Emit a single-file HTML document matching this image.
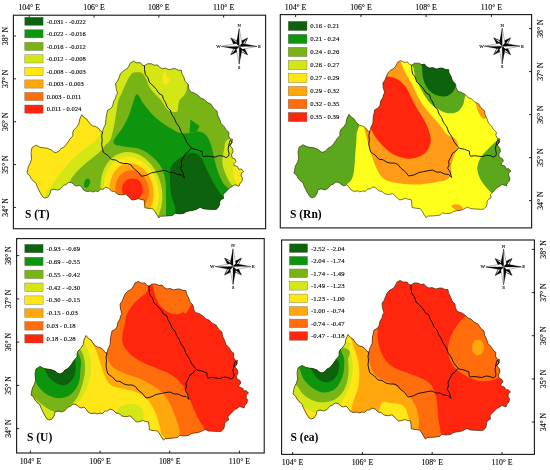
<!DOCTYPE html>
<html lang="en"><head><meta charset="utf-8"><title>Sensitivity maps</title>
<style>html,body{margin:0;padding:0;background:#fff}body{width:550px;height:470px;overflow:hidden}svg{display:block}text{font-family:"Liberation Serif","DejaVu Serif",serif;fill:#000}.ax{font-size:7.8px;stroke:#000;stroke-width:0.12px}.lg{font-size:6.5px;stroke:#000;stroke-width:0.12px}.lg2{font-size:6.7px;stroke:#000;stroke-width:0.12px}.ttl{font-size:11.5px;font-weight:bold;fill:#000}.cp{font-size:4.8px;fill:#111;stroke:#111;stroke-width:0.15px}</style></head><body>
<svg width="550" height="470" viewBox="0 0 550 470">
<rect width="550" height="470" fill="#fff"/>
<defs><filter id="soft" x="0" y="0" width="550" height="470" filterUnits="userSpaceOnUse"><feGaussianBlur stdDeviation="0.4"/></filter>
<clipPath id="clip1"><path d="M27 173.4 L28.4 166.5 L30.5 162.5 L31.6 158.6 L31 152.6 L32 147.7 L36 145.1 L39.9 147.2 L42.9 147.7 L46.9 148.2 L50.9 149.7 L53.9 152.1 L55.9 152.6 L58.9 151.2 L60.8 148.7 L63.8 147.2 L66.8 143.8 L69.8 139.3 L72.8 135.9 L72.8 132.4 L73.8 129.9 L76.8 127 L78.8 124 L79.8 119.1 L81.7 114.7 L84.2 117.6 L86.7 119.1 L89.7 123.5 L92.7 126 L95.7 126.5 L98.7 128.5 L100.7 131.4 L102.6 131.9 L103.6 128 L105.6 124 L106.1 117.1 L107.6 110.2 L110.6 108.7 L112.6 106.2 L113.6 101.3 L115.6 98.3 L116.1 95.4 L117.6 93.4 L116.1 88.5 L115.6 83.5 L117.6 81.1 L118.6 78.6 L120.6 73.6 L123.6 70.7 L126.5 69.2 L128.5 66.7 L130.5 62.8 L133.5 61.2 L136.5 62.8 L140.5 62.8 L142.5 65.3 L144.5 65.7 L147.4 63.8 L151.4 63.8 L154.4 65.3 L157.4 64.8 L159.4 67.2 L162.4 68.7 L165.4 68.2 L169.3 69.7 L172.3 68.7 L175.3 68.7 L178.3 70.2 L181.3 70.2 L181.8 73.6 L183.8 77.1 L185.3 81.5 L188.3 84.5 L188.7 88.5 L190.7 91.9 L194.2 92.9 L198.2 95.4 L201.2 98.3 L204.2 99.3 L207.2 102.3 L211.1 104.3 L213.6 108.2 L217.1 111.2 L217.6 115.1 L219.6 119.1 L221.1 123.5 L224.1 126.5 L226.1 129.9 L229.1 132.4 L228.6 135.9 L230.1 138.8 L232.5 139.3 L232 142.3 L230.1 144.2 L230.1 145.7 L232.5 148.7 L233 151.7 L231.6 154.6 L232 157.6 L235 159.1 L236 161.5 L234 163.5 L234 165.5 L237.5 166.5 L239 169.4 L241 168.9 L243.6 171.4 L241.5 172.9 L241 175.3 L242.5 178.3 L242 181.3 L240 183.2 L239 186.2 L234.8 184.7 L232 186.7 L229.6 188 L226.6 191.1 L223.1 194.5 L223.6 198.3 L221.1 199.5 L219.8 201.4 L219.6 204.5 L218.7 206.9 L216.1 209.4 L213.3 209.5 L208.2 209.2 L203.6 208.9 L200.2 207.3 L196.2 209.4 L192.6 210.6 L189.2 210.9 L186.2 211.7 L184 213.3 L179.3 213.9 L175.1 213.2 L172.8 215.3 L170 215.7 L165.4 216.1 L160.4 216.3 L158.9 218 L156.9 214.8 L154.4 210.7 L152.9 208.9 L148.4 208.4 L144.8 207.7 L144.5 203.5 L144.1 200 L141 199.5 L138.3 198.6 L134.5 199.8 L131.9 200 L128.5 196.6 L125.5 193.9 L121.6 194.9 L117.6 194.1 L114.6 191.6 L111.6 191.1 L108.6 188.2 L105.6 187.2 L103.1 189.2 L100.7 189.2 L98.2 191.6 L95.7 191.1 L92.7 192.1 L90.7 191.1 L86.7 191.6 L83.7 190.2 L81.7 187.2 L79.8 185.2 L76.8 186.2 L74.8 185.2 L71.8 182.8 L68.8 182.3 L65.8 184.7 L63.8 185.2 L60.8 188.7 L57.9 190.2 L53.9 189.2 L50.9 190.2 L49.9 194.1 L47.9 197.1 L44.9 198.1 L42.9 197.1 L40.4 193.1 L38.9 190.2 L37 186.2 L36 183.2 L33 180.8 L31 178.3 L29.5 175.3 Z"/></clipPath>
<clipPath id="clip2"><path d="M294 173.1 L295.4 166.1 L297.5 162.2 L298.6 158.2 L298 152.3 L299 147.3 L303 144.7 L307 146.8 L310 147.3 L314 147.8 L317.9 149.3 L320.9 151.8 L322.9 152.3 L325.9 150.8 L327.9 148.3 L330.9 146.8 L333.9 143.4 L336.9 138.9 L339.9 135.4 L339.9 132 L340.9 129.5 L343.9 126.5 L345.9 123.6 L346.9 118.6 L348.9 114.2 L351.4 117.1 L353.8 118.6 L356.8 123.1 L359.8 125.5 L362.8 126 L365.8 128.1 L367.8 131 L369.8 131.5 L370.8 127.5 L372.8 123.6 L373.3 116.6 L374.8 109.7 L377.8 108.2 L379.8 105.7 L380.8 100.8 L382.8 97.8 L383.3 94.8 L384.8 92.9 L383.3 87.9 L382.8 83 L384.8 80.5 L385.8 78 L387.8 73.1 L390.7 70.1 L393.7 68.6 L395.7 66.1 L397.7 62.2 L400.7 60.6 L403.7 62.2 L407.7 62.2 L409.7 64.6 L411.7 65.1 L414.7 63.2 L418.7 63.2 L421.7 64.6 L424.6 64.1 L426.6 66.6 L429.6 68.1 L432.6 67.6 L436.6 69.1 L439.6 68.1 L442.6 68.1 L445.6 69.6 L448.6 69.6 L449.1 73.1 L451.1 76.5 L452.6 81 L455.6 83.9 L456.1 87.9 L458.1 91.4 L461.5 92.4 L465.5 94.8 L468.5 97.8 L471.5 98.8 L474.5 101.8 L478.5 103.8 L481 107.7 L484.5 110.7 L485 114.6 L487 118.6 L488.5 123.1 L491.5 126 L493.5 129.5 L496.4 132 L495.9 135.4 L497.4 138.4 L499.9 138.9 L499.4 141.9 L497.4 143.8 L497.4 145.3 L499.9 148.3 L500.4 151.3 L498.9 154.2 L499.4 157.2 L502.4 158.7 L503.4 161.2 L501.4 163.1 L501.4 165.1 L504.9 166.1 L506.4 169.1 L508.4 168.6 L511 171.1 L508.9 172.6 L508.4 175 L509.9 178 L509.4 181 L507.4 182.9 L506.4 185.9 L502.2 184.4 L499.4 186.4 L496.9 187.7 L494 190.9 L490.5 194.2 L491 198 L488.5 199.3 L487.2 201.2 L487 204.2 L486.1 206.7 L483.5 209.2 L480.7 209.3 L475.5 209 L470.9 208.7 L467.5 207.1 L463.5 209.2 L459.9 210.4 L456.6 210.7 L453.5 211.5 L451.3 213 L446.6 213.6 L442.4 212.9 L440.1 215.1 L437.3 215.5 L432.6 215.9 L427.6 216.1 L426.1 217.8 L424.1 214.6 L421.7 210.5 L420.2 208.7 L415.7 208.2 L412 207.5 L411.7 203.2 L411.3 199.8 L408.2 199.3 L405.5 198.3 L401.7 199.6 L399.1 199.8 L395.7 196.3 L392.7 193.6 L388.7 194.6 L384.8 193.8 L381.8 191.4 L378.8 190.9 L375.8 187.9 L372.8 186.9 L370.3 188.9 L367.8 188.9 L365.3 191.4 L362.8 190.9 L359.8 191.9 L357.8 190.9 L353.8 191.4 L350.9 189.9 L348.9 186.9 L346.9 184.9 L343.9 185.9 L341.9 184.9 L338.9 182.5 L335.9 182 L332.9 184.4 L330.9 184.9 L327.9 188.4 L324.9 189.9 L320.9 188.9 L317.9 189.9 L316.9 193.8 L315 196.8 L312 197.8 L310 196.8 L307.5 192.9 L306 189.9 L304 185.9 L303 182.9 L300 180.5 L298 178 L296.5 175 Z"/></clipPath>
<clipPath id="clip3"><path d="M31 395 L32.4 388 L34.5 384 L35.6 380 L35 374 L36 369 L40 366.4 L44 368.5 L47 369 L51 369.5 L55 371 L58 373.5 L60 374 L63 372.5 L65 370 L68 368.5 L71 365 L74 360.5 L77 357 L77 353.5 L78 351 L81 348 L83 345 L84 340 L86 335.6 L88.5 338.5 L91 340 L94 344.5 L97 347 L100 347.5 L103 349.6 L105 352.5 L107 353 L108 349 L110 345 L110.5 338 L112 331 L115 329.5 L117 327 L118 322 L120 319 L120.5 316 L122 314 L120.5 309 L120 304 L122 301.5 L123 299 L125 294 L128 291 L131 289.5 L133 287 L135 283 L138 281.4 L141 283 L145 283 L147 285.5 L149 286 L152 284 L156 284 L159 285.5 L162 285 L164 287.5 L167 289 L170 288.5 L174 290 L177 289 L180 289 L183 290.5 L186 290.5 L186.5 294 L188.5 297.5 L190 302 L193 305 L193.5 309 L195.5 312.5 L199 313.5 L203 316 L206 319 L209 320 L212 323 L216 325 L218.5 329 L222 332 L222.5 336 L224.5 340 L226 344.5 L229 347.5 L231 351 L234 353.5 L233.5 357 L235 360 L237.5 360.5 L237 363.5 L235 365.5 L235 367 L237.5 370 L238 373 L236.5 376 L237 379 L240 380.5 L241 383 L239 385 L239 387 L242.5 388 L244 391 L246 390.5 L248.6 393 L246.5 394.5 L246 397 L247.5 400 L247 403 L245 405 L244 408 L239.8 406.5 L237 408.5 L234.5 409.8 L231.5 413 L228 416.4 L228.5 420.2 L226 421.5 L224.7 423.4 L224.5 426.5 L223.6 429 L221 431.5 L218.2 431.6 L213 431.3 L208.4 431 L205 429.4 L201 431.5 L197.4 432.7 L194 433 L190.9 433.8 L188.7 435.4 L184 436 L179.8 435.3 L177.5 437.5 L174.7 437.9 L170 438.3 L165 438.5 L163.5 440.2 L161.5 437 L159 432.8 L157.5 431 L153 430.5 L149.3 429.8 L149 425.5 L148.6 422 L145.5 421.5 L142.8 420.5 L139 421.8 L136.4 422 L133 418.5 L130 415.8 L126 416.8 L122 416 L119 413.5 L116 413 L113 410 L110 409 L107.5 411 L105 411 L102.5 413.5 L100 413 L97 414 L95 413 L91 413.5 L88 412 L86 409 L84 407 L81 408 L79 407 L76 404.5 L73 404 L70 406.5 L68 407 L65 410.5 L62 412 L58 411 L55 412 L54 416 L52 419 L49 420 L47 419 L44.5 415 L43 412 L41 408 L40 405 L37 402.5 L35 400 L33.5 397 Z"/></clipPath>
<clipPath id="clip4"><path d="M293 394 L294.4 387 L296.5 383 L297.6 379 L297 373 L298 368 L302 365.4 L306 367.5 L309 368 L313 368.5 L317 370 L320 372.5 L322 373 L325 371.5 L327 369 L330 367.5 L333 364 L336 359.5 L339 356 L339 352.5 L340 350 L343 347 L345 344 L346 339 L348 334.6 L350.5 337.5 L353 339 L356 343.5 L359 346 L362 346.5 L365 348.6 L367 351.5 L369 352 L370 348 L372 344 L372.5 337 L374 330 L377 328.5 L379 326 L380 321 L382 318 L382.5 315 L384 313 L382.5 308 L382 303 L384 300.5 L385 298 L387 293 L390 290 L393 288.5 L395 286 L397 282 L400 280.4 L403 282 L407 282 L409 284.5 L411 285 L414 283 L418 283 L421 284.5 L424 284 L426 286.5 L429 288 L432 287.5 L436 289 L439 288 L442 288 L445 289.5 L448 289.5 L448.5 293 L450.5 296.5 L452 301 L455 304 L455.5 308 L457.5 311.5 L461 312.5 L465 315 L468 318 L471 319 L474 322 L478 324 L480.5 328 L484 331 L484.5 335 L486.5 339 L488 343.5 L491 346.5 L493 350 L496 352.5 L495.5 356 L497 359 L499.5 359.5 L499 362.5 L497 364.5 L497 366 L499.5 369 L500 372 L498.5 375 L499 378 L502 379.5 L503 382 L501 384 L501 386 L504.5 387 L506 390 L508 389.5 L510.6 392 L508.5 393.5 L508 396 L509.5 399 L509 402 L507 404 L506 407 L501.8 405.5 L499 407.5 L496.5 408.8 L493.5 412 L490 415.4 L490.5 419.2 L488 420.5 L486.7 422.4 L486.5 425.5 L485.6 428 L483 430.5 L480.2 430.6 L475 430.3 L470.4 430 L467 428.4 L463 430.5 L459.4 431.7 L456 432 L452.9 432.8 L450.7 434.4 L446 435 L441.8 434.3 L439.5 436.5 L436.7 436.9 L432 437.3 L427 437.5 L425.5 439.2 L423.5 436 L421 431.8 L419.5 430 L415 429.5 L411.3 428.8 L411 424.5 L410.6 421 L407.5 420.5 L404.8 419.5 L401 420.8 L398.4 421 L395 417.5 L392 414.8 L388 415.8 L384 415 L381 412.5 L378 412 L375 409 L372 408 L369.5 410 L367 410 L364.5 412.5 L362 412 L359 413 L357 412 L353 412.5 L350 411 L348 408 L346 406 L343 407 L341 406 L338 403.5 L335 403 L332 405.5 L330 406 L327 409.5 L324 411 L320 410 L317 411 L316 415 L314 418 L311 419 L309 418 L306.5 414 L305 411 L303 407 L302 404 L299 401.5 L297 399 L295.5 396 Z"/></clipPath>
<g id="rose"><path d="M0 0 L0 -4.4 L8.5 -8.5 L4.4 -0 Z" fill="#000" stroke="#000" stroke-width="0.4" stroke-linejoin="round"/><path d="M2.3 -1 L4.5 -0.7 L7.3 -7.3 Z" fill="#fff"/><path d="M0 0 L4.4 -0 L8.5 8.5 L0 4.4 Z" fill="#000" stroke="#000" stroke-width="0.4" stroke-linejoin="round"/><path d="M1 2.3 L0.7 4.5 L7.3 7.3 Z" fill="#fff"/><path d="M0 0 L0 4.4 L-8.5 8.5 L-4.4 0 Z" fill="#000" stroke="#000" stroke-width="0.4" stroke-linejoin="round"/><path d="M-2.3 1 L-4.5 0.7 L-7.3 7.3 Z" fill="#fff"/><path d="M0 0 L-4.4 0 L-8.5 -8.5 L-0 -4.4 Z" fill="#000" stroke="#000" stroke-width="0.4" stroke-linejoin="round"/><path d="M-1 -2.3 L-0.7 -4.5 L-7.3 -7.3 Z" fill="#fff"/><path d="M0 0 L-2.9 -2.9 L0 -17.8 Z" fill="#000" stroke="#000" stroke-width="0.3" stroke-linejoin="round"/><path d="M0 0 L2.9 -2.9 L0 -17.8 Z" fill="#fff" stroke="#000" stroke-width="0.3" stroke-linejoin="round"/><path d="M0 0 L2.9 -2.9 L17.8 -0 Z" fill="#000" stroke="#000" stroke-width="0.3" stroke-linejoin="round"/><path d="M0 0 L2.9 2.9 L17.8 -0 Z" fill="#fff" stroke="#000" stroke-width="0.3" stroke-linejoin="round"/><path d="M0 0 L2.9 2.9 L0 17.8 Z" fill="#000" stroke="#000" stroke-width="0.3" stroke-linejoin="round"/><path d="M0 0 L-2.9 2.9 L0 17.8 Z" fill="#fff" stroke="#000" stroke-width="0.3" stroke-linejoin="round"/><path d="M0 0 L-2.9 2.9 L-17.8 0 Z" fill="#000" stroke="#000" stroke-width="0.3" stroke-linejoin="round"/><path d="M0 0 L-2.9 -2.9 L-17.8 0 Z" fill="#fff" stroke="#000" stroke-width="0.3" stroke-linejoin="round"/><circle r="1.3" fill="#666"/><text class="cp" x="0" y="-19.2" text-anchor="middle">N</text><text class="cp" x="0" y="22.2" text-anchor="middle">S</text><text class="cp" x="-20.8" y="1.5" text-anchor="middle">W</text><text class="cp" x="20.2" y="1.5" text-anchor="middle">E</text></g>
</defs>
<g filter="url(#soft)">
<g clip-path="url(#clip1)">
<rect x="10" y="40" width="260" height="190" fill="#79b417"/>
<path d="M68.5 187.5 C70.6 177.4 71.7 178.5 74.5 174.5 C77.3 170.5 82 166.7 85.5 163.5 C89 160.3 92.8 157.8 95.5 155.5 C98.2 153.2 99.8 151.8 101.5 150 C103.2 148.2 104 146.8 105.5 145 C107 143.2 109.1 142.7 110.5 139.5 C111.9 136.3 113 130.8 114 126 C115 121.2 115.8 115.3 116.5 111 C117.2 106.7 117.6 103 118.5 100 C119.4 97 120.5 95.9 121.8 93 C123.1 90.1 124.6 85.9 126.2 82.7 C127.8 79.5 129.8 75.5 131.6 73.8 C133.4 72.1 135.3 72.4 137 72.3 C138.7 72.2 140.5 71.9 142 72.9 C143.5 73.9 144.6 76.2 145.8 78.4 C147 80.6 147.6 83.5 149 86 C150.4 88.5 152.7 91.4 154.5 93.6 C156.3 95.8 158.5 97.3 160 99 C161.5 100.7 162.3 102.3 163.5 104 C164.7 105.7 165.4 107.7 167 109 C168.6 110.3 171.2 111.7 173 112 C174.8 112.3 176.6 112.2 177.5 111 C178.4 109.8 177.9 106.4 178.3 104.5 C178.7 102.6 179.1 100.9 180 99.5 C180.9 98.1 182.4 97.4 183.5 96 C184.6 94.6 185.7 93 186.3 91 C186.9 89 186.8 86.8 187.2 84 C187.6 81.2 186 78.8 189 74 C192 69.2 219.8 61.5 205 55 C190.2 48.5 134.2 27.5 100 35 C65.8 42.5 16.7 66.7 0 100 C-16.7 133.3 -10.3 212.5 0 235 C10.3 257.5 50.6 242.9 62 235 C73.4 227.1 66.4 197.6 68.5 187.5 Z" fill="#d4e616"/>
<path d="M45 196 C46.8 188 48.7 190.5 51 187 C53.3 183.5 55.7 179.3 59 175 C62.3 170.7 67 165.2 71 161 C75 156.8 79 153.3 83 150 C87 146.7 92.1 143.8 95 141 C97.9 138.2 99 135.3 100.5 133 C102 130.7 105.8 133.3 104 127 C102.2 120.7 107.3 99.5 90 95 C72.7 90.5 15 76.7 0 100 C-15 123.3 -6.7 212.5 0 235 C6.7 257.5 32.5 241.5 40 235 C47.5 228.5 43.2 204 45 196 Z" fill="#ffe613"/>
<path d="M164.6 70.8 C164.2 71.2 163.8 73.3 163.4 74.6 C163 75.9 162.4 77.1 162.4 78.4 C162.4 79.7 162.7 81.5 163.2 82.6 C163.7 83.7 164.7 85 165.6 85 C166.5 85 167.8 83.5 168.4 82.6 C169 81.7 169.5 80.4 169.4 79.5 C169.3 78.6 168.2 77.9 167.6 77.2 C167 76.5 166.3 76.3 166 75.5 C165.7 74.7 165.8 73.2 165.6 72.4 C165.4 71.6 165 70.4 164.6 70.8 Z" fill="#ffe613"/>
<path d="M137 94 C138.7 94 140.7 99.8 143 103 C145.3 106.2 148 109.8 151 113 C154 116.2 157.7 119.4 161 122 C164.3 124.6 167.8 126.7 171 128.5 C174.2 130.3 176.8 132.2 180 133 C183.2 133.8 187 133.2 190 133 C193 132.8 195.3 131.2 198 131.5 C200.7 131.8 203.8 132.8 206 135 C208.2 137.2 209.7 141.3 211 145 C212.3 148.7 213 153 214 157 C215 161 215.7 165 217 169 C218.3 173 220.2 177.8 222 181 C223.8 184.2 224.7 185.2 228 188 C231.3 190.8 239.7 190.2 242 198 C244.3 205.8 254.7 228.8 242 235 C229.3 241.2 178.7 238.2 166 235 C153.3 231.8 166 221.8 166 216 C166 210.2 166.1 205.7 166 200 C165.9 194.3 166 186.8 165.5 182 C165 177.2 164.3 174.3 163 171 C161.7 167.7 159.7 164.7 157.5 162 C155.3 159.3 152.9 157.2 150 155 C147.1 152.8 144.3 150.4 140 149 C135.7 147.6 128 147.2 124 146.5 C120 145.8 117.7 146.1 116 145 C114.3 143.9 112.8 143 114 140 C115.2 137 120.5 131.2 123 127 C125.5 122.8 127.3 119 129 115 C130.7 111 131.7 106.5 133 103 C134.3 99.5 135.3 94 137 94 Z" fill="#0f9511"/>
<path d="M190.5 119.5 L199.5 126 L197 131.5 L189.5 133 Z" fill="#0f9511"/>
<path d="M171 167 C172.3 163.4 175.2 161.8 178 159.5 C180.8 157.2 185 154.5 188 153.5 C191 152.5 193.7 152.6 196 153.5 C198.3 154.4 200.2 156.2 202 159 C203.8 161.8 205.3 166.5 207 170 C208.7 173.5 210.2 176.7 212 180 C213.8 183.3 216 187 218 190 C220 193 221 194.7 224 198 C227 201.3 234.7 203.8 236 210 C237.3 216.2 242 230.8 232 235 C222 239.2 185.4 239.2 176 235 C166.6 230.8 176.2 216.5 175.5 210 C174.8 203.5 172.4 200.8 171.5 196 C170.6 191.2 170.1 185.8 170 181 C169.9 176.2 169.7 170.6 171 167 Z" fill="#07630a"/>
<path d="M229 139 C223.7 141 225.1 146 224 150 C222.9 154 222.1 158.8 222.4 163 C222.7 167.2 224.6 171.5 226 175 C227.4 178.5 229.3 182.1 231 184 C232.7 185.9 232.5 185.2 236 186.5 C239.5 187.8 248.7 200.1 252 192 C255.3 183.9 259.8 146.8 256 138 C252.2 129.2 234.3 137 229 139 Z" fill="#d4e616"/>
<path d="M236 157 C232.3 158.8 234.2 163 233.8 166 C233.4 169 233.1 172.2 233.5 175 C233.9 177.8 234.9 180.8 236 182.5 C237.1 184.2 237 184.2 240 185.5 C243 186.8 251.3 195.1 254 190 C256.7 184.9 259 160.5 256 155 C253 149.5 239.7 155.2 236 157 Z" fill="#ffe613"/>
<ellipse cx="131.5" cy="191.5" rx="30.3" ry="40" fill="#d4e616" transform="rotate(-14 131.5 191.5)"/>
<ellipse cx="131.3" cy="191.5" rx="27" ry="35" fill="#ffe613" transform="rotate(-13 131.3 191.5)"/>
<ellipse cx="131.7" cy="191" rx="21.8" ry="28" fill="#ffa70d" transform="rotate(-11 131.7 191)"/>
<ellipse cx="132.1" cy="190.5" rx="16.8" ry="20.5" fill="#ff6d0d" transform="rotate(-8 132.1 190.5)"/>
<ellipse cx="132.5" cy="189.5" rx="10.5" ry="11" fill="#ff250b"/>
<ellipse cx="87" cy="183.2" rx="2.8" ry="4.7" fill="#0f9511" transform="rotate(18 87 183.2)"/>
</g>
<path d="M27 173.4 L28.4 166.5 L30.5 162.5 L31.6 158.6 L31 152.6 L32 147.7 L36 145.1 L39.9 147.2 L42.9 147.7 L46.9 148.2 L50.9 149.7 L53.9 152.1 L55.9 152.6 L58.9 151.2 L60.8 148.7 L63.8 147.2 L66.8 143.8 L69.8 139.3 L72.8 135.9 L72.8 132.4 L73.8 129.9 L76.8 127 L78.8 124 L79.8 119.1 L81.7 114.7 L84.2 117.6 L86.7 119.1 L89.7 123.5 L92.7 126 L95.7 126.5 L98.7 128.5 L100.7 131.4 L102.6 131.9 L103.6 128 L105.6 124 L106.1 117.1 L107.6 110.2 L110.6 108.7 L112.6 106.2 L113.6 101.3 L115.6 98.3 L116.1 95.4 L117.6 93.4 L116.1 88.5 L115.6 83.5 L117.6 81.1 L118.6 78.6 L120.6 73.6 L123.6 70.7 L126.5 69.2 L128.5 66.7 L130.5 62.8 L133.5 61.2 L136.5 62.8 L140.5 62.8 L142.5 65.3 L144.5 65.7 L147.4 63.8 L151.4 63.8 L154.4 65.3 L157.4 64.8 L159.4 67.2 L162.4 68.7 L165.4 68.2 L169.3 69.7 L172.3 68.7 L175.3 68.7 L178.3 70.2 L181.3 70.2 L181.8 73.6 L183.8 77.1 L185.3 81.5 L188.3 84.5 L188.7 88.5 L190.7 91.9 L194.2 92.9 L198.2 95.4 L201.2 98.3 L204.2 99.3 L207.2 102.3 L211.1 104.3 L213.6 108.2 L217.1 111.2 L217.6 115.1 L219.6 119.1 L221.1 123.5 L224.1 126.5 L226.1 129.9 L229.1 132.4 L228.6 135.9 L230.1 138.8 L232.5 139.3 L232 142.3 L230.1 144.2 L230.1 145.7 L232.5 148.7 L233 151.7 L231.6 154.6 L232 157.6 L235 159.1 L236 161.5 L234 163.5 L234 165.5 L237.5 166.5 L239 169.4 L241 168.9 L243.6 171.4 L241.5 172.9 L241 175.3 L242.5 178.3 L242 181.3 L240 183.2 L239 186.2 L234.8 184.7 L232 186.7 L229.6 188 L226.6 191.1 L223.1 194.5 L223.6 198.3 L221.1 199.5 L219.8 201.4 L219.6 204.5 L218.7 206.9 L216.1 209.4 L213.3 209.5 L208.2 209.2 L203.6 208.9 L200.2 207.3 L196.2 209.4 L192.6 210.6 L189.2 210.9 L186.2 211.7 L184 213.3 L179.3 213.9 L175.1 213.2 L172.8 215.3 L170 215.7 L165.4 216.1 L160.4 216.3 L158.9 218 L156.9 214.8 L154.4 210.7 L152.9 208.9 L148.4 208.4 L144.8 207.7 L144.5 203.5 L144.1 200 L141 199.5 L138.3 198.6 L134.5 199.8 L131.9 200 L128.5 196.6 L125.5 193.9 L121.6 194.9 L117.6 194.1 L114.6 191.6 L111.6 191.1 L108.6 188.2 L105.6 187.2 L103.1 189.2 L100.7 189.2 L98.2 191.6 L95.7 191.1 L92.7 192.1 L90.7 191.1 L86.7 191.6 L83.7 190.2 L81.7 187.2 L79.8 185.2 L76.8 186.2 L74.8 185.2 L71.8 182.8 L68.8 182.3 L65.8 184.7 L63.8 185.2 L60.8 188.7 L57.9 190.2 L53.9 189.2 L50.9 190.2 L49.9 194.1 L47.9 197.1 L44.9 198.1 L42.9 197.1 L40.4 193.1 L38.9 190.2 L37 186.2 L36 183.2 L33 180.8 L31 178.3 L29.5 175.3 Z" fill="none" stroke="#2a2810" stroke-width="0.7" stroke-opacity="0.9"/>
<path d="M144.5 65.7 L144.5 69.7 L145.4 74.6 L147.9 77.6 L149.4 82.5 L152.9 85.5 L156.4 89.4 L158.9 93.4 L162.4 95.4 L163.4 99.3 L165.4 102.3 L167.3 107.2 L170.3 110.2 L171.8 114.6 L174.3 118.1 L176.3 123 L179.3 127 L181.3 132.4 L184.3 136.8 L186.8 142.3 L190.2 146.7 L192.2 148.7" fill="none" stroke="#0c0802" stroke-width="0.9" stroke-linejoin="round"/>
<path d="M192.2 148.7 L197.2 149.7 L202.2 151.7 L202.2 154.6 L203.2 156.6 L207.2 156.1 L211.1 156.6 L215.1 157.1 L219.1 155.6 L223.1 156.1 L226.1 157.6 L228.6 156.1 L229.1 153.6 L228.1 149.7 L228.7 145.7 L230.6 144.7 L232 142.3 L230.6 139.8 L229.6 141.8 L228.7 145.7" fill="none" stroke="#0c0802" stroke-width="0.9" stroke-linejoin="round"/>
<path d="M191.2 148.2 L188.3 151.7 L185.3 153.6 L183.3 158.1 L181.3 161.5 L181.8 165.5 L180.3 168.4 L182.8 172.4 L184.3 177.8" fill="none" stroke="#0c0802" stroke-width="0.9" stroke-linejoin="round"/>
<path d="M184.3 177.8 L181.3 174.9 L177.3 174.4 L173.3 172.4 L169.3 172.4 L165.4 170.4 L161.4 170.9 L156.4 171.9 L151.4 172.9 L146.4 175.3 L141.5 176.3 L138 171.9 L133.5 168.4 L131 165 L127.5 163.5 L123.6 163.5 L119.6 162.5 L115.6 160 L111.6 159.5 L108.1 155.6 L103.6 152.6 L102.6 149.7 L101.7 144.7 L102.2 139.8 L101.7 135.9 L102.6 131.9" fill="none" stroke="#0c0802" stroke-width="0.9" stroke-linejoin="round"/>
<g clip-path="url(#clip2)">
<rect x="280" y="40" width="260" height="190" fill="#ffff1c"/>
<path d="M356 108 C369.1 113.8 356.7 127.2 356.6 135 C356.5 142.8 355.6 149 355.2 155 C354.8 161 354.6 166.9 354 171 C353.4 175.1 352.8 177.2 351.5 179.5 C350.2 181.8 348.2 183.1 346.5 184.5 C344.8 185.9 343.8 184.6 341 188 C338.2 191.4 340.5 202.2 330 205 C319.5 207.8 286.7 222.5 278 205 C269.3 187.5 265 116.2 278 100 C291 83.8 342.9 102.2 356 108 Z" fill="#5ba81a"/>
<path d="M363.6 124 C365.1 133.8 365.8 134.2 367 139 C368.2 143.8 369.6 148.5 371 153 C372.4 157.5 373.8 162.2 375.5 166 C377.2 169.8 378.9 173.5 381 176 C383.1 178.5 384.8 179.8 388 181 C391.2 182.2 395.3 182.9 400 183.5 C404.7 184.1 411.3 184.5 416 184.5 C420.7 184.5 424.5 183.9 428 183.5 C431.5 183.1 434 182.6 437 182 C440 181.4 443.7 181.2 446 180 C448.3 178.8 450.2 177.2 451 175 C451.8 172.8 450.7 169.7 451 167 C451.3 164.3 452.2 161.7 453 159 C453.8 156.3 455.2 153.4 456 151 C456.8 148.6 458.2 146.6 458 144.5 C457.8 142.4 456.8 140.2 455 138.5 C453.2 136.8 449.3 136.5 447 134.5 C444.7 132.5 443.4 129.4 441 126.4 C438.6 123.4 435.2 120 432.3 116.6 C429.4 113.1 426.1 109.3 423.5 105.7 C420.9 102.1 418.9 98.3 417 94.8 C415.1 91.3 414.1 88.2 412.2 84.5 C410.2 80.8 407.2 76.4 405.3 72.5 C403.4 68.6 401.7 64.4 400.5 61 C399.3 57.6 400.6 54.2 398 52 C395.4 49.8 391.7 43.3 385 48 C378.3 52.7 361.6 67.3 358 80 C354.4 92.7 362.1 114.2 363.6 124 Z" fill="#ff9b12"/>
<path d="M384 78.3 C387.2 75.3 388.6 76.7 391 77 C393.4 77.3 396.2 78.5 398.5 80 C400.8 81.5 403.2 83.9 405 86 C406.8 88.1 407.9 90.5 409 92.5 C410.1 94.5 410 95.1 411.5 98 C413 100.9 415.8 106.2 418 110 C420.2 113.8 422.8 117.5 424.6 121 C426.4 124.5 428 127.7 429 131 C430 134.3 431.1 137.7 430.8 141 C430.5 144.3 429.1 148.3 427 151 C424.9 153.7 421.5 155.8 418 157 C414.5 158.2 410.3 159.1 406 158.5 C401.7 157.9 396 155.8 392 153.5 C388 151.2 384.9 148 382 145 C379.1 142 376.3 138.2 374.5 135.5 C372.7 132.8 372.2 131.8 371 129 C369.8 126.2 367.3 124.7 367.5 119 C367.7 113.3 369.2 101.8 372 95 C374.8 88.2 380.8 81.3 384 78.3 Z" fill="#ff250b"/>
<path d="M412.5 58 C408.1 61.3 412.9 64.5 413.5 68 C414.1 71.5 414.6 75.2 416 79 C417.4 82.8 419.7 87 422 91 C424.3 95 427.3 100 430 103 C432.7 106 435.2 107.3 438 109 C440.8 110.7 443.8 112.5 447 113 C450.2 113.5 454.3 113.3 457 112 C459.7 110.7 461.6 107.8 463 105 C464.4 102.2 464 99.2 465.5 95 C467 90.8 476.2 87.8 472 80 C467.8 72.2 449.9 51.7 440 48 C430.1 44.3 416.9 54.7 412.5 58 Z" fill="#5ba81a"/>
<path d="M422 58 C415.3 59.5 421.8 63.5 422 67 C422.2 70.5 422.3 75.3 423.3 79 C424.3 82.7 425.9 86.3 428 89 C430.1 91.7 433 93.8 436 95 C439 96.2 443.1 96.9 446 96.2 C448.9 95.5 451.8 93.2 453.5 91 C455.2 88.8 455.7 85.8 456 83 C456.3 80.2 454.5 78.2 455.5 74 C456.5 69.8 467.6 60.7 462 58 C456.4 55.3 428.7 56.5 422 58 Z" fill="#07630a"/>
<path d="M476 99.5 C474.5 101 476.4 105.6 477 108 C477.6 110.4 478.3 112.2 479.3 114 C480.3 115.8 481.6 118 483 118.5 C484.4 119 486.7 118.4 488 117 C489.3 115.6 491.3 113 491 110 C490.7 107 488.5 100.8 486 99 C483.5 97.2 477.5 98 476 99.5 Z" fill="#ff9b12"/>
<path d="M497.5 140.5 C494.8 142 492.5 144.6 490 147 C487.5 149.4 484.4 152.3 482.5 155 C480.6 157.7 479.2 160.5 478.3 163 C477.4 165.5 477.1 167.4 477.4 170 C477.7 172.6 478.7 175.8 480 178.5 C481.3 181.2 483 183.5 485 186 C487 188.5 489.3 191 492 193.5 C494.7 196 496 201.6 501 201 C506 200.4 518.5 198.5 522 190 C525.5 181.5 524.7 158.7 522 150 C519.3 141.3 510.1 139.6 506 138 C501.9 136.4 500.2 139 497.5 140.5 Z" fill="#5ba81a"/>
<path d="M451.5 206 C451.6 205 455.2 204.1 457 204.3 C458.8 204.5 461.5 206 462.3 207.4 C463.1 208.8 463 212 462 212.5 C461 213 458.2 211.6 456.5 210.5 C454.8 209.4 451.4 207 451.5 206 Z" fill="#ff9b12"/>
</g>
<path d="M294 173.1 L295.4 166.1 L297.5 162.2 L298.6 158.2 L298 152.3 L299 147.3 L303 144.7 L307 146.8 L310 147.3 L314 147.8 L317.9 149.3 L320.9 151.8 L322.9 152.3 L325.9 150.8 L327.9 148.3 L330.9 146.8 L333.9 143.4 L336.9 138.9 L339.9 135.4 L339.9 132 L340.9 129.5 L343.9 126.5 L345.9 123.6 L346.9 118.6 L348.9 114.2 L351.4 117.1 L353.8 118.6 L356.8 123.1 L359.8 125.5 L362.8 126 L365.8 128.1 L367.8 131 L369.8 131.5 L370.8 127.5 L372.8 123.6 L373.3 116.6 L374.8 109.7 L377.8 108.2 L379.8 105.7 L380.8 100.8 L382.8 97.8 L383.3 94.8 L384.8 92.9 L383.3 87.9 L382.8 83 L384.8 80.5 L385.8 78 L387.8 73.1 L390.7 70.1 L393.7 68.6 L395.7 66.1 L397.7 62.2 L400.7 60.6 L403.7 62.2 L407.7 62.2 L409.7 64.6 L411.7 65.1 L414.7 63.2 L418.7 63.2 L421.7 64.6 L424.6 64.1 L426.6 66.6 L429.6 68.1 L432.6 67.6 L436.6 69.1 L439.6 68.1 L442.6 68.1 L445.6 69.6 L448.6 69.6 L449.1 73.1 L451.1 76.5 L452.6 81 L455.6 83.9 L456.1 87.9 L458.1 91.4 L461.5 92.4 L465.5 94.8 L468.5 97.8 L471.5 98.8 L474.5 101.8 L478.5 103.8 L481 107.7 L484.5 110.7 L485 114.6 L487 118.6 L488.5 123.1 L491.5 126 L493.5 129.5 L496.4 132 L495.9 135.4 L497.4 138.4 L499.9 138.9 L499.4 141.9 L497.4 143.8 L497.4 145.3 L499.9 148.3 L500.4 151.3 L498.9 154.2 L499.4 157.2 L502.4 158.7 L503.4 161.2 L501.4 163.1 L501.4 165.1 L504.9 166.1 L506.4 169.1 L508.4 168.6 L511 171.1 L508.9 172.6 L508.4 175 L509.9 178 L509.4 181 L507.4 182.9 L506.4 185.9 L502.2 184.4 L499.4 186.4 L496.9 187.7 L494 190.9 L490.5 194.2 L491 198 L488.5 199.3 L487.2 201.2 L487 204.2 L486.1 206.7 L483.5 209.2 L480.7 209.3 L475.5 209 L470.9 208.7 L467.5 207.1 L463.5 209.2 L459.9 210.4 L456.6 210.7 L453.5 211.5 L451.3 213 L446.6 213.6 L442.4 212.9 L440.1 215.1 L437.3 215.5 L432.6 215.9 L427.6 216.1 L426.1 217.8 L424.1 214.6 L421.7 210.5 L420.2 208.7 L415.7 208.2 L412 207.5 L411.7 203.2 L411.3 199.8 L408.2 199.3 L405.5 198.3 L401.7 199.6 L399.1 199.8 L395.7 196.3 L392.7 193.6 L388.7 194.6 L384.8 193.8 L381.8 191.4 L378.8 190.9 L375.8 187.9 L372.8 186.9 L370.3 188.9 L367.8 188.9 L365.3 191.4 L362.8 190.9 L359.8 191.9 L357.8 190.9 L353.8 191.4 L350.9 189.9 L348.9 186.9 L346.9 184.9 L343.9 185.9 L341.9 184.9 L338.9 182.5 L335.9 182 L332.9 184.4 L330.9 184.9 L327.9 188.4 L324.9 189.9 L320.9 188.9 L317.9 189.9 L316.9 193.8 L315 196.8 L312 197.8 L310 196.8 L307.5 192.9 L306 189.9 L304 185.9 L303 182.9 L300 180.5 L298 178 L296.5 175 Z" fill="none" stroke="#2a2810" stroke-width="0.7" stroke-opacity="0.9"/>
<path d="M411.7 65.1 L411.7 69.1 L412.7 74.1 L415.2 77 L416.7 82 L420.2 84.9 L423.6 88.9 L426.1 92.9 L429.6 94.8 L430.6 98.8 L432.6 101.8 L434.6 106.7 L437.6 109.7 L439.1 114.1 L441.6 117.6 L443.6 122.6 L446.6 126.5 L448.6 132 L451.6 136.4 L454.1 141.9 L457.6 146.3 L459.5 148.3" fill="none" stroke="#0c0802" stroke-width="0.9" stroke-linejoin="round"/>
<path d="M459.5 148.3 L464.5 149.3 L469.5 151.3 L469.5 154.2 L470.5 156.2 L474.5 155.7 L478.5 156.2 L482.5 156.7 L486.5 155.2 L490.5 155.7 L493.5 157.2 L495.9 155.7 L496.4 153.2 L495.4 149.3 L496 145.3 L497.9 144.3 L499.4 141.9 L497.9 139.4 L496.9 141.4 L496 145.3" fill="none" stroke="#0c0802" stroke-width="0.9" stroke-linejoin="round"/>
<path d="M458.6 147.8 L455.6 151.3 L452.6 153.2 L450.6 157.7 L448.6 161.2 L449.1 165.1 L447.6 168.1 L450.1 172.1 L451.6 177.5" fill="none" stroke="#0c0802" stroke-width="0.9" stroke-linejoin="round"/>
<path d="M451.6 177.5 L448.6 174.5 L444.6 174 L440.6 172.1 L436.6 172.1 L432.6 170.1 L428.6 170.6 L423.6 171.6 L418.7 172.6 L413.7 175 L408.7 176 L405.2 171.6 L400.7 168.1 L398.2 164.6 L394.7 163.1 L390.7 163.1 L386.8 162.2 L382.8 159.7 L378.8 159.2 L375.3 155.2 L370.8 152.3 L369.8 149.3 L368.8 144.3 L369.3 139.4 L368.8 135.4 L369.8 131.5" fill="none" stroke="#0c0802" stroke-width="0.9" stroke-linejoin="round"/>
<g clip-path="url(#clip3)">
<rect x="15" y="270" width="250" height="180" fill="#ff250b"/>
<path d="M147.5 283 C148.6 287.3 147.9 289.7 146.8 292 C145.7 294.3 143.2 295 141 297 C138.8 299 135.8 301.3 133.5 304 C131.2 306.7 129 309.5 127.5 313 C126 316.5 125.3 321.3 124.5 325 C123.7 328.7 122.8 331.8 122.5 335 C122.2 338.2 121.8 340.8 123 344 C124.2 347.2 126.8 351 130 354 C133.2 357 137.7 359.7 142 362 C146.3 364.3 151.5 366.1 156 368 C160.5 369.9 165.3 371.5 169 373.5 C172.7 375.5 175.3 377.4 178 380 C180.7 382.6 183 385.7 185 389 C187 392.3 188.5 396.5 190 400 C191.5 403.5 192.6 406.5 194.2 410 C195.8 413.5 197.8 417.7 199.6 421 C201.4 424.3 203.6 425.8 205 430 C206.4 434.2 225.5 440.7 208 446 C190.5 451.3 131.7 459.3 100 462 C68.3 464.7 31.7 484 18 462 C4.3 440 4.3 362.3 18 330 C31.7 297.7 79.7 278.7 100 268 C120.3 257.3 132.1 263.5 140 266 C147.9 268.5 146.4 278.7 147.5 283 Z" fill="#ff6d0d"/>
<path d="M153.5 278 C149.1 280.8 153.4 285.7 153.8 289 C154.2 292.3 154.8 295.1 156 298 C157.2 300.9 158.8 304.1 161 306.5 C163.2 308.9 166.3 311.2 169 312.5 C171.7 313.8 174.7 314.3 177 314.3 C179.3 314.3 181.5 312.4 183 312.3 C184.5 312.2 184.7 314.7 186 313.5 C187.3 312.3 189.7 307.2 191 305 C192.3 302.8 192.7 302.5 194 300 C195.3 297.5 201.3 294.7 199 290 C196.7 285.3 187.6 274 180 272 C172.4 270 157.9 275.2 153.5 278 Z" fill="#ff6d0d"/>
<path d="M104.5 345 C108.8 350.7 105.4 349.5 106 352 C106.6 354.5 106.7 357.3 108 360 C109.3 362.7 111 365.7 114 368 C117 370.3 122 372.3 126 374 C130 375.7 134 376.3 138 378 C142 379.7 146.3 381.9 150 384 C153.7 386.1 157.3 388.3 160 390.5 C162.7 392.7 164.2 394.6 166 397 C167.8 399.4 169 401.8 170.5 405 C172 408.2 173.6 412.2 175 416 C176.4 419.8 178.2 424.3 179 428 C179.8 431.7 179.8 434 180 438 C180.2 442 207 448 180 452 C153 456 45 482.3 18 462 C-9 441.7 7.7 354 18 330 C28.3 306 65.6 315.5 80 318 C94.4 320.5 100.2 339.3 104.5 345 Z" fill="#ffa70d"/>
<path d="M86 331 C97.9 332.4 87.8 335.3 89.5 338.5 C91.2 341.7 94.2 346.1 96 350 C97.8 353.9 98.7 358 100 362 C101.3 366 102.8 370.8 104 374 C105.2 377.2 106.1 379 107.5 381 C108.9 383 109.8 384.7 112.5 386 C115.2 387.3 120.1 388 124 389 C127.9 390 132.3 390.5 136 392 C139.7 393.5 143.3 395.7 146 398 C148.7 400.3 150.3 403.3 152 406 C153.7 408.7 154.8 411 156 414 C157.2 417 158.2 420.8 159 424 C159.8 427.2 160.7 428.3 161 433 C161.3 437.7 184.8 447.2 161 452 C137.2 456.8 41.8 482.3 18 462 C-5.8 441.7 6.7 351.8 18 330 C29.3 308.2 74.1 329.6 86 331 Z" fill="#ffe613"/>
<path d="M83.5 340 C86.2 341.3 84.9 343.3 86 346 C87.1 348.7 89.2 352 90 356 C90.8 360 91 366.3 91 370 C91 373.7 90.8 374.7 90 378 C89.2 381.3 87.7 386.3 86 390 C84.3 393.7 82 397.3 80 400 C78 402.7 75.8 403.3 74 406 C72.2 408.7 71.3 412.3 69 416 C66.7 419.7 65.2 426 60 428 C54.8 430 45 432.3 38 428 C31 423.7 21.3 413.3 18 402 C14.7 390.7 9.3 370.7 18 360 C26.7 349.3 59.1 341.3 70 338 C80.9 334.7 80.8 338.7 83.5 340 Z" fill="#d4e616"/>
<path d="M116.5 414.5 C116.3 411.5 116.8 410.6 118 409 C119.2 407.4 121.8 405.8 124 405 C126.2 404.2 128.6 403.9 131 404 C133.4 404.1 136.5 404.4 138.5 405.5 C140.5 406.6 142.2 408.4 143 410.5 C143.8 412.6 144 415.2 143.5 418 C143 420.8 144.1 425.5 140 427 C135.9 428.5 122.9 429.1 119 427 C115.1 424.9 116.7 417.5 116.5 414.5 Z" fill="#d4e616"/>
<path d="M80 349 C82.3 352.3 83.2 354.5 84 358 C84.8 361.5 85.2 366 85 370 C84.8 374 84.2 377.7 83 382 C81.8 386.3 80.2 392 78 396 C75.8 400 73 403.2 70 406 C67 408.8 63.3 411.8 60 412.5 C56.7 413.2 53.3 411.6 50 410 C46.7 408.4 43 405.3 40 403 C37 400.7 34.8 398 32 396 C29.2 394 24.5 398.7 23 391 C21.5 383.3 15.2 358.8 23 350 C30.8 341.2 60.5 338.2 70 338 C79.5 337.8 77.7 345.7 80 349 Z" fill="#79b417"/>
<path d="M79 355 C82.4 360.7 80.5 367 80.3 372 C80.1 377 79.7 381.2 78 385 C76.3 388.8 73.3 392.8 70 395 C66.7 397.2 62 398.5 58 398.3 C54 398.1 49.3 396.1 46 394 C42.7 391.9 39.9 388.4 38 386 C36.1 383.6 36.8 382.2 34.5 379.5 C32.2 376.8 19.8 376.9 24 370 C28.2 363.1 50.8 340.5 60 338 C69.2 335.5 75.6 349.3 79 355 Z" fill="#0f9511"/>
<path d="M45 366 C44.7 370 46.2 373.2 48 376 C49.8 378.8 53.2 381.5 56 383 C58.8 384.5 62.3 385.7 65 385.2 C67.7 384.7 70.3 382.2 72 380 C73.7 377.8 74.8 375.2 75.3 372 C75.8 368.8 76.2 364.3 75.3 361 C74.4 357.7 74.2 353.5 70 352 C65.8 350.5 54.2 349.7 50 352 C45.8 354.3 45.3 362 45 366 Z" fill="#07630a"/>
</g>
<path d="M31 395 L32.4 388 L34.5 384 L35.6 380 L35 374 L36 369 L40 366.4 L44 368.5 L47 369 L51 369.5 L55 371 L58 373.5 L60 374 L63 372.5 L65 370 L68 368.5 L71 365 L74 360.5 L77 357 L77 353.5 L78 351 L81 348 L83 345 L84 340 L86 335.6 L88.5 338.5 L91 340 L94 344.5 L97 347 L100 347.5 L103 349.6 L105 352.5 L107 353 L108 349 L110 345 L110.5 338 L112 331 L115 329.5 L117 327 L118 322 L120 319 L120.5 316 L122 314 L120.5 309 L120 304 L122 301.5 L123 299 L125 294 L128 291 L131 289.5 L133 287 L135 283 L138 281.4 L141 283 L145 283 L147 285.5 L149 286 L152 284 L156 284 L159 285.5 L162 285 L164 287.5 L167 289 L170 288.5 L174 290 L177 289 L180 289 L183 290.5 L186 290.5 L186.5 294 L188.5 297.5 L190 302 L193 305 L193.5 309 L195.5 312.5 L199 313.5 L203 316 L206 319 L209 320 L212 323 L216 325 L218.5 329 L222 332 L222.5 336 L224.5 340 L226 344.5 L229 347.5 L231 351 L234 353.5 L233.5 357 L235 360 L237.5 360.5 L237 363.5 L235 365.5 L235 367 L237.5 370 L238 373 L236.5 376 L237 379 L240 380.5 L241 383 L239 385 L239 387 L242.5 388 L244 391 L246 390.5 L248.6 393 L246.5 394.5 L246 397 L247.5 400 L247 403 L245 405 L244 408 L239.8 406.5 L237 408.5 L234.5 409.8 L231.5 413 L228 416.4 L228.5 420.2 L226 421.5 L224.7 423.4 L224.5 426.5 L223.6 429 L221 431.5 L218.2 431.6 L213 431.3 L208.4 431 L205 429.4 L201 431.5 L197.4 432.7 L194 433 L190.9 433.8 L188.7 435.4 L184 436 L179.8 435.3 L177.5 437.5 L174.7 437.9 L170 438.3 L165 438.5 L163.5 440.2 L161.5 437 L159 432.8 L157.5 431 L153 430.5 L149.3 429.8 L149 425.5 L148.6 422 L145.5 421.5 L142.8 420.5 L139 421.8 L136.4 422 L133 418.5 L130 415.8 L126 416.8 L122 416 L119 413.5 L116 413 L113 410 L110 409 L107.5 411 L105 411 L102.5 413.5 L100 413 L97 414 L95 413 L91 413.5 L88 412 L86 409 L84 407 L81 408 L79 407 L76 404.5 L73 404 L70 406.5 L68 407 L65 410.5 L62 412 L58 411 L55 412 L54 416 L52 419 L49 420 L47 419 L44.5 415 L43 412 L41 408 L40 405 L37 402.5 L35 400 L33.5 397 Z" fill="none" stroke="#2a2810" stroke-width="0.7" stroke-opacity="0.9"/>
<path d="M149 286 L149 290 L150 295 L152.5 298 L154 303 L157.5 306 L161 310 L163.5 314 L167 316 L168 320 L170 323 L172 328 L175 331 L176.5 335.5 L179 339 L181 344 L184 348 L186 353.5 L189 358 L191.5 363.5 L195 368 L197 370" fill="none" stroke="#0c0802" stroke-width="0.9" stroke-linejoin="round"/>
<path d="M197 370 L202 371 L207 373 L207 376 L208 378 L212 377.5 L216 378 L220 378.5 L224 377 L228 377.5 L231 379 L233.5 377.5 L234 375 L233 371 L233.6 367 L235.5 366 L237 363.5 L235.5 361 L234.5 363 L233.6 367" fill="none" stroke="#0c0802" stroke-width="0.9" stroke-linejoin="round"/>
<path d="M196 369.5 L193 373 L190 375 L188 379.5 L186 383 L186.5 387 L185 390 L187.5 394 L189 399.5" fill="none" stroke="#0c0802" stroke-width="0.9" stroke-linejoin="round"/>
<path d="M189 399.5 L186 396.5 L182 396 L178 394 L174 394 L170 392 L166 392.5 L161 393.5 L156 394.5 L151 397 L146 398 L142.5 393.5 L138 390 L135.5 386.5 L132 385 L128 385 L124 384 L120 381.5 L116 381 L112.5 377 L108 374 L107 371 L106 366 L106.5 361 L106 357 L107 353" fill="none" stroke="#0c0802" stroke-width="0.9" stroke-linejoin="round"/>
<g clip-path="url(#clip4)">
<rect x="280" y="270" width="260" height="185" fill="#ff250b"/>
<path d="M370 320 C386.2 321.2 375.7 323.7 377 327 C378.3 330.3 377.3 335.8 378 340 C378.7 344.2 379.5 348.3 381 352 C382.5 355.7 384.7 359.3 387 362 C389.3 364.7 392.5 366.5 395 368 C397.5 369.5 398.5 369.7 402 371 C405.5 372.3 411.7 374.2 416 376 C420.3 377.8 425 379.7 428 382 C431 384.3 432.5 386.7 434 390 C435.5 393.3 436.3 397.7 437 402 C437.7 406.3 437.5 411.7 438 416 C438.5 420.3 439.4 424 440 428 C440.6 432 441.2 435.2 441.5 440 C441.8 444.8 468.9 454.2 442 457 C415.1 459.8 307 479.8 280 457 C253 434.2 265 342.8 280 320 C295 297.2 353.8 318.8 370 320 Z" fill="#ff6d0d"/>
<path d="M469 313.5 C465 316.2 461 320.2 458 324 C455 327.8 452.7 332 451 336 C449.3 340 448.2 344 448 348 C447.8 352 448.7 356.5 450 360 C451.3 363.5 453 366.2 456 369 C459 371.8 464 375 468 377 C472 379 476 380.4 480 381 C484 381.6 488.8 381 492 380.3 C495.2 379.6 496.2 378.7 499.5 377 C502.8 375.3 509.9 377.8 512 370 C514.1 362.2 517 340.3 512 330 C507 319.7 489.2 310.8 482 308 C474.8 305.2 473 310.8 469 313.5 Z" fill="#ff6d0d"/>
<ellipse cx="478" cy="347.4" rx="6" ry="8" fill="#ffa70d"/>
<path d="M365.5 344 C367.2 348.3 367.2 350.7 368 354 C368.8 357.3 369.2 361 370 364 C370.8 367 371.5 369.7 373 372 C374.5 374.3 376.7 376.4 379 378 C381.3 379.6 384.5 380.3 387 381.5 C389.5 382.7 391.2 383.2 394 385 C396.8 386.8 401 389.5 404 392 C407 394.5 409.8 397 412 400 C414.2 403 415.8 406.3 417 410 C418.2 413.7 418.8 418.3 419 422 C419.2 425.7 418.4 426.2 418.3 432 C418.2 437.8 441.6 452.8 418.5 457 C395.4 461.2 303.1 478.2 280 457 C256.9 435.8 267 351.5 280 330 C293 308.5 343.8 325.7 358 328 C372.2 330.3 363.8 339.7 365.5 344 Z" fill="#ffa70d"/>
<path d="M349.5 335 C351.8 339.2 352.6 343.8 354 348 C355.4 352.2 357.1 355.7 358 360 C358.9 364.3 359.4 369.3 359.4 374 C359.4 378.7 358.9 383.8 358 388 C357.1 392.2 355.2 395.8 354 399.5 C352.8 403.2 351.7 406.2 351 410 C350.3 413.8 361.8 414.2 350 422 C338.2 429.8 291.7 472.3 280 457 C268.3 441.7 270 352.3 280 330 C290 307.7 328.4 322.2 340 323 C351.6 323.8 347.2 330.8 349.5 335 Z" fill="#ffe613"/>
<path d="M381.8 403 C383.9 400.1 389 403.1 392 403.3 C395 403.5 397.8 403.4 400 404.2 C402.2 405 403.9 406.4 405.2 408 C406.5 409.6 407.1 411.5 407.6 414 C408.1 416.5 410.4 420.8 408.3 423 C406.2 425.2 399.8 427.3 395 427 C390.2 426.7 381.7 425 379.5 421 C377.3 417 379.7 405.9 381.8 403 Z" fill="#ffe613"/>
<path d="M345.5 342 C355.3 343.7 347.9 345 349 348 C350.1 351 351.4 355.7 352 360 C352.6 364.3 352.9 369.3 352.4 374 C351.9 378.7 350.6 383.7 349 388 C347.4 392.3 344.8 396.8 343 400 C341.2 403.2 340 405.4 338 407 C336 408.6 333.5 408.6 331 409.5 C328.5 410.4 325.7 411.8 323 412.3 C320.3 412.9 318 413.5 315 412.8 C312 412.1 308 409.8 305 408.3 C302 406.8 300.2 405.9 297 404 C293.8 402.1 288.3 401 286 397 C283.7 393 282.3 389.8 283 380 C283.7 370.2 279.6 344.3 290 338 C300.4 331.7 335.7 340.3 345.5 342 Z" fill="#d4e616"/>
<path d="M344.5 348 C354.5 351.3 347.4 355.7 348 360 C348.6 364.3 348.9 369.3 348.4 374 C347.9 378.7 346.9 384 345 388 C343.1 392 340.3 395.6 337 398 C333.7 400.4 329 401.9 325 402.3 C321 402.7 316.7 401.9 313 400.5 C309.3 399.1 305.8 396.6 303 394 C300.2 391.4 298.8 386.8 296 385 C293.2 383.2 287.3 390.5 286 383 C284.7 375.5 278.2 345.8 288 340 C297.8 334.2 334.5 344.7 344.5 348 Z" fill="#79b417"/>
<path d="M342.5 354 C344.9 358.7 344.3 362 344.2 366 C344.1 370 343.5 374.2 342 378 C340.5 381.8 338.2 386.6 335 389 C331.8 391.4 327 392.7 323 392.4 C319 392.1 314.3 389.4 311 387 C307.7 384.6 305.1 381.3 303 378 C300.9 374.7 301 370 298.5 367 C296 364 282.8 364.8 288 360 C293.2 355.2 320.9 339 330 338 C339.1 337 340.1 349.3 342.5 354 Z" fill="#0f9511"/>
<path d="M337.5 360 C340.6 363.3 339.1 368.7 338.3 372 C337.6 375.3 335.2 378.3 333 380 C330.8 381.7 327.7 382.6 325 382.3 C322.3 382 319.2 380 317 378 C314.8 376 313.5 373 312 370.5 C310.5 368 306.7 366.1 308 363 C309.3 359.9 315.1 352.5 320 352 C324.9 351.5 334.4 356.7 337.5 360 Z" fill="#07630a"/>
</g>
<path d="M293 394 L294.4 387 L296.5 383 L297.6 379 L297 373 L298 368 L302 365.4 L306 367.5 L309 368 L313 368.5 L317 370 L320 372.5 L322 373 L325 371.5 L327 369 L330 367.5 L333 364 L336 359.5 L339 356 L339 352.5 L340 350 L343 347 L345 344 L346 339 L348 334.6 L350.5 337.5 L353 339 L356 343.5 L359 346 L362 346.5 L365 348.6 L367 351.5 L369 352 L370 348 L372 344 L372.5 337 L374 330 L377 328.5 L379 326 L380 321 L382 318 L382.5 315 L384 313 L382.5 308 L382 303 L384 300.5 L385 298 L387 293 L390 290 L393 288.5 L395 286 L397 282 L400 280.4 L403 282 L407 282 L409 284.5 L411 285 L414 283 L418 283 L421 284.5 L424 284 L426 286.5 L429 288 L432 287.5 L436 289 L439 288 L442 288 L445 289.5 L448 289.5 L448.5 293 L450.5 296.5 L452 301 L455 304 L455.5 308 L457.5 311.5 L461 312.5 L465 315 L468 318 L471 319 L474 322 L478 324 L480.5 328 L484 331 L484.5 335 L486.5 339 L488 343.5 L491 346.5 L493 350 L496 352.5 L495.5 356 L497 359 L499.5 359.5 L499 362.5 L497 364.5 L497 366 L499.5 369 L500 372 L498.5 375 L499 378 L502 379.5 L503 382 L501 384 L501 386 L504.5 387 L506 390 L508 389.5 L510.6 392 L508.5 393.5 L508 396 L509.5 399 L509 402 L507 404 L506 407 L501.8 405.5 L499 407.5 L496.5 408.8 L493.5 412 L490 415.4 L490.5 419.2 L488 420.5 L486.7 422.4 L486.5 425.5 L485.6 428 L483 430.5 L480.2 430.6 L475 430.3 L470.4 430 L467 428.4 L463 430.5 L459.4 431.7 L456 432 L452.9 432.8 L450.7 434.4 L446 435 L441.8 434.3 L439.5 436.5 L436.7 436.9 L432 437.3 L427 437.5 L425.5 439.2 L423.5 436 L421 431.8 L419.5 430 L415 429.5 L411.3 428.8 L411 424.5 L410.6 421 L407.5 420.5 L404.8 419.5 L401 420.8 L398.4 421 L395 417.5 L392 414.8 L388 415.8 L384 415 L381 412.5 L378 412 L375 409 L372 408 L369.5 410 L367 410 L364.5 412.5 L362 412 L359 413 L357 412 L353 412.5 L350 411 L348 408 L346 406 L343 407 L341 406 L338 403.5 L335 403 L332 405.5 L330 406 L327 409.5 L324 411 L320 410 L317 411 L316 415 L314 418 L311 419 L309 418 L306.5 414 L305 411 L303 407 L302 404 L299 401.5 L297 399 L295.5 396 Z" fill="none" stroke="#2a2810" stroke-width="0.7" stroke-opacity="0.9"/>
<path d="M411 285 L411 289 L412 294 L414.5 297 L416 302 L419.5 305 L423 309 L425.5 313 L429 315 L430 319 L432 322 L434 327 L437 330 L438.5 334.5 L441 338 L443 343 L446 347 L448 352.5 L451 357 L453.5 362.5 L457 367 L459 369" fill="none" stroke="#0c0802" stroke-width="0.9" stroke-linejoin="round"/>
<path d="M459 369 L464 370 L469 372 L469 375 L470 377 L474 376.5 L478 377 L482 377.5 L486 376 L490 376.5 L493 378 L495.5 376.5 L496 374 L495 370 L495.6 366 L497.5 365 L499 362.5 L497.5 360 L496.5 362 L495.6 366" fill="none" stroke="#0c0802" stroke-width="0.9" stroke-linejoin="round"/>
<path d="M458 368.5 L455 372 L452 374 L450 378.5 L448 382 L448.5 386 L447 389 L449.5 393 L451 398.5" fill="none" stroke="#0c0802" stroke-width="0.9" stroke-linejoin="round"/>
<path d="M451 398.5 L448 395.5 L444 395 L440 393 L436 393 L432 391 L428 391.5 L423 392.5 L418 393.5 L413 396 L408 397 L404.5 392.5 L400 389 L397.5 385.5 L394 384 L390 384 L386 383 L382 380.5 L378 380 L374.5 376 L370 373 L369 370 L368 365 L368.5 360 L368 356 L369 352" fill="none" stroke="#0c0802" stroke-width="0.9" stroke-linejoin="round"/>
<rect x="13.4" y="15.2" width="252.2" height="213.5" fill="none" stroke="#151515" stroke-width="1.1"/>
<path d="M29.2 15.2 v2.4" stroke="#111" stroke-width="0.9"/>
<text class="ax" x="29.2" y="10.4" text-anchor="middle">104° E</text>
<path d="M94 15.2 v2.4" stroke="#111" stroke-width="0.9"/>
<text class="ax" x="94" y="10.4" text-anchor="middle">106° E</text>
<path d="M158.8 15.2 v2.4" stroke="#111" stroke-width="0.9"/>
<text class="ax" x="158.8" y="10.4" text-anchor="middle">108° E</text>
<path d="M223.6 15.2 v2.4" stroke="#111" stroke-width="0.9"/>
<text class="ax" x="223.6" y="10.4" text-anchor="middle">110° E</text>
<path d="M13.4 36 h2.6" stroke="#111" stroke-width="0.9"/>
<text class="ax" transform="translate(7.8 36) rotate(-90)" text-anchor="middle">38° N</text>
<path d="M13.4 78.8 h2.6" stroke="#111" stroke-width="0.9"/>
<text class="ax" transform="translate(7.8 78.8) rotate(-90)" text-anchor="middle">37° N</text>
<path d="M13.4 121.7 h2.6" stroke="#111" stroke-width="0.9"/>
<text class="ax" transform="translate(7.8 121.7) rotate(-90)" text-anchor="middle">36° N</text>
<path d="M13.4 164.6 h2.6" stroke="#111" stroke-width="0.9"/>
<text class="ax" transform="translate(7.8 164.6) rotate(-90)" text-anchor="middle">35° N</text>
<path d="M13.4 207.4 h2.6" stroke="#111" stroke-width="0.9"/>
<text class="ax" transform="translate(7.8 207.4) rotate(-90)" text-anchor="middle">34° N</text>
<rect x="280.3" y="14.6" width="251.3" height="213.3" fill="none" stroke="#151515" stroke-width="1.1"/>
<path d="M295.6 14.6 v2.4" stroke="#111" stroke-width="0.9"/>
<text class="ax" x="295.6" y="9.8" text-anchor="middle">104° E</text>
<path d="M360.9 14.6 v2.4" stroke="#111" stroke-width="0.9"/>
<text class="ax" x="360.9" y="9.8" text-anchor="middle">106° E</text>
<path d="M426.1 14.6 v2.4" stroke="#111" stroke-width="0.9"/>
<text class="ax" x="426.1" y="9.8" text-anchor="middle">108° E</text>
<path d="M491.4 14.6 v2.4" stroke="#111" stroke-width="0.9"/>
<text class="ax" x="491.4" y="9.8" text-anchor="middle">110° E</text>
<path d="M531.6 28.6 h-2.6" stroke="#111" stroke-width="0.9"/>
<text class="ax" transform="translate(543 28.6) rotate(-90)" text-anchor="middle">38° N</text>
<path d="M531.6 71.6 h-2.6" stroke="#111" stroke-width="0.9"/>
<text class="ax" transform="translate(543 71.6) rotate(-90)" text-anchor="middle">37° N</text>
<path d="M531.6 114.6 h-2.6" stroke="#111" stroke-width="0.9"/>
<text class="ax" transform="translate(543 114.6) rotate(-90)" text-anchor="middle">36° N</text>
<path d="M531.6 157.6 h-2.6" stroke="#111" stroke-width="0.9"/>
<text class="ax" transform="translate(543 157.6) rotate(-90)" text-anchor="middle">35° N</text>
<path d="M531.6 200.6 h-2.6" stroke="#111" stroke-width="0.9"/>
<text class="ax" transform="translate(543 200.6) rotate(-90)" text-anchor="middle">34° N</text>
<rect x="16.6" y="238.6" width="247.6" height="214.4" fill="none" stroke="#151515" stroke-width="1.1"/>
<path d="M30.4 453 v-2.4" stroke="#111" stroke-width="0.9"/>
<text class="ax" x="30.4" y="463.8" text-anchor="middle">104° E</text>
<path d="M100.1 453 v-2.4" stroke="#111" stroke-width="0.9"/>
<text class="ax" x="100.1" y="463.8" text-anchor="middle">106° E</text>
<path d="M169.7 453 v-2.4" stroke="#111" stroke-width="0.9"/>
<text class="ax" x="169.7" y="463.8" text-anchor="middle">108° E</text>
<path d="M239.4 453 v-2.4" stroke="#111" stroke-width="0.9"/>
<text class="ax" x="239.4" y="463.8" text-anchor="middle">110° E</text>
<path d="M16.6 255.6 h2.6" stroke="#111" stroke-width="0.9"/>
<text class="ax" transform="translate(11 255.6) rotate(-90)" text-anchor="middle">38° N</text>
<path d="M16.6 298.9 h2.6" stroke="#111" stroke-width="0.9"/>
<text class="ax" transform="translate(11 298.9) rotate(-90)" text-anchor="middle">37° N</text>
<path d="M16.6 342.1 h2.6" stroke="#111" stroke-width="0.9"/>
<text class="ax" transform="translate(11 342.1) rotate(-90)" text-anchor="middle">36° N</text>
<path d="M16.6 385.4 h2.6" stroke="#111" stroke-width="0.9"/>
<text class="ax" transform="translate(11 385.4) rotate(-90)" text-anchor="middle">35° N</text>
<path d="M16.6 428.6 h2.6" stroke="#111" stroke-width="0.9"/>
<text class="ax" transform="translate(11 428.6) rotate(-90)" text-anchor="middle">34° N</text>
<rect x="281.6" y="240" width="252.8" height="214.4" fill="none" stroke="#151515" stroke-width="1.1"/>
<path d="M292.6 454.4 v-2.4" stroke="#111" stroke-width="0.9"/>
<text class="ax" x="292.6" y="465.2" text-anchor="middle">104° E</text>
<path d="M362.4 454.4 v-2.4" stroke="#111" stroke-width="0.9"/>
<text class="ax" x="362.4" y="465.2" text-anchor="middle">106° E</text>
<path d="M432.2 454.4 v-2.4" stroke="#111" stroke-width="0.9"/>
<text class="ax" x="432.2" y="465.2" text-anchor="middle">108° E</text>
<path d="M502 454.4 v-2.4" stroke="#111" stroke-width="0.9"/>
<text class="ax" x="502" y="465.2" text-anchor="middle">110° E</text>
<path d="M534.4 249.4 h-2.6" stroke="#111" stroke-width="0.9"/>
<text class="ax" transform="translate(545.8 249.4) rotate(-90)" text-anchor="middle">38° N</text>
<path d="M534.4 292.6 h-2.6" stroke="#111" stroke-width="0.9"/>
<text class="ax" transform="translate(545.8 292.6) rotate(-90)" text-anchor="middle">37° N</text>
<path d="M534.4 335.7 h-2.6" stroke="#111" stroke-width="0.9"/>
<text class="ax" transform="translate(545.8 335.7) rotate(-90)" text-anchor="middle">36° N</text>
<path d="M534.4 378.9 h-2.6" stroke="#111" stroke-width="0.9"/>
<text class="ax" transform="translate(545.8 378.9) rotate(-90)" text-anchor="middle">35° N</text>
<path d="M534.4 422 h-2.6" stroke="#111" stroke-width="0.9"/>
<text class="ax" transform="translate(545.8 422) rotate(-90)" text-anchor="middle">34° N</text>
<rect x="24.8" y="17.2" width="18.3" height="8.2" fill="#07630a" stroke="#6e6e5a" stroke-width="0.4"/>
<text class="lg" x="46.8" y="23.6">-0.031 - -0.022</text>
<rect x="24.8" y="29.7" width="18.3" height="8.2" fill="#0f9511" stroke="#6e6e5a" stroke-width="0.4"/>
<text class="lg" x="46.8" y="36.1">-0.022 - -0.016</text>
<rect x="24.8" y="42.3" width="18.3" height="8.2" fill="#79b417" stroke="#6e6e5a" stroke-width="0.4"/>
<text class="lg" x="46.8" y="48.7">-0.016 - -0.012</text>
<rect x="24.8" y="54.8" width="18.3" height="8.2" fill="#d4e616" stroke="#6e6e5a" stroke-width="0.4"/>
<text class="lg" x="46.8" y="61.2">-0.012 - -0.008</text>
<rect x="24.8" y="67.4" width="18.3" height="8.2" fill="#ffe613" stroke="#6e6e5a" stroke-width="0.4"/>
<text class="lg" x="46.8" y="73.8">-0.008 - -0.003</text>
<rect x="24.8" y="79.9" width="18.3" height="8.2" fill="#ffa70d" stroke="#6e6e5a" stroke-width="0.4"/>
<text class="lg" x="46.8" y="86.3">-0.003 - 0.003</text>
<rect x="24.8" y="92.4" width="18.3" height="8.2" fill="#ff6d0d" stroke="#6e6e5a" stroke-width="0.4"/>
<text class="lg" x="46.8" y="98.8">0.003 - 0.011</text>
<rect x="24.8" y="105" width="18.3" height="8.2" fill="#ff250b" stroke="#6e6e5a" stroke-width="0.4"/>
<text class="lg" x="46.8" y="111.4">0.011 - 0.024</text>
<rect x="288.2" y="21.3" width="18.8" height="9.3" fill="#07630a" stroke="#6e6e5a" stroke-width="0.4"/>
<text class="lg2" x="310.3" y="28.3">0.16 - 0.21</text>
<rect x="288.2" y="34.3" width="18.8" height="9.3" fill="#0f9511" stroke="#6e6e5a" stroke-width="0.4"/>
<text class="lg2" x="310.3" y="41.3">0.21 - 0.24</text>
<rect x="288.2" y="47.3" width="18.8" height="9.3" fill="#79b417" stroke="#6e6e5a" stroke-width="0.4"/>
<text class="lg2" x="310.3" y="54.3">0.24 - 0.26</text>
<rect x="288.2" y="60.4" width="18.8" height="9.3" fill="#d4e616" stroke="#6e6e5a" stroke-width="0.4"/>
<text class="lg2" x="310.3" y="67.3">0.26 - 0.27</text>
<rect x="288.2" y="73.4" width="18.8" height="9.3" fill="#ffe613" stroke="#6e6e5a" stroke-width="0.4"/>
<text class="lg2" x="310.3" y="80.3">0.27 - 0.29</text>
<rect x="288.2" y="86.4" width="18.8" height="9.3" fill="#ffa70d" stroke="#6e6e5a" stroke-width="0.4"/>
<text class="lg2" x="310.3" y="93.3">0.29 - 0.32</text>
<rect x="288.2" y="99.4" width="18.8" height="9.3" fill="#ff6d0d" stroke="#6e6e5a" stroke-width="0.4"/>
<text class="lg2" x="310.3" y="106.4">0.32 - 0.35</text>
<rect x="288.2" y="112.4" width="18.8" height="9.3" fill="#ff250b" stroke="#6e6e5a" stroke-width="0.4"/>
<text class="lg2" x="310.3" y="119.4">0.35 - 0.39</text>
<rect x="24.8" y="244.3" width="18.3" height="8.5" fill="#07630a" stroke="#6e6e5a" stroke-width="0.4"/>
<text class="lg2" x="46.6" y="250.9">-0.93 - -0.69</text>
<rect x="24.8" y="257.2" width="18.3" height="8.5" fill="#0f9511" stroke="#6e6e5a" stroke-width="0.4"/>
<text class="lg2" x="46.6" y="263.7">-0.69 - -0.55</text>
<rect x="24.8" y="270.1" width="18.3" height="8.5" fill="#79b417" stroke="#6e6e5a" stroke-width="0.4"/>
<text class="lg2" x="46.6" y="276.6">-0.55 - -0.42</text>
<rect x="24.8" y="283" width="18.3" height="8.5" fill="#d4e616" stroke="#6e6e5a" stroke-width="0.4"/>
<text class="lg2" x="46.6" y="289.5">-0.42 - -0.30</text>
<rect x="24.8" y="295.9" width="18.3" height="8.5" fill="#ffe613" stroke="#6e6e5a" stroke-width="0.4"/>
<text class="lg2" x="46.6" y="302.4">-0.30 - -0.15</text>
<rect x="24.8" y="308.8" width="18.3" height="8.5" fill="#ffa70d" stroke="#6e6e5a" stroke-width="0.4"/>
<text class="lg2" x="46.6" y="315.3">-0.15 - 0.03</text>
<rect x="24.8" y="321.6" width="18.3" height="8.5" fill="#ff6d0d" stroke="#6e6e5a" stroke-width="0.4"/>
<text class="lg2" x="46.6" y="328.2">0.03 - 0.18</text>
<rect x="24.8" y="334.5" width="18.3" height="8.5" fill="#ff250b" stroke="#6e6e5a" stroke-width="0.4"/>
<text class="lg2" x="46.6" y="341.1">0.18 - 0.28</text>
<rect x="289.4" y="243.9" width="18.2" height="8.6" fill="#07630a" stroke="#6e6e5a" stroke-width="0.4"/>
<text class="lg2" x="311.1" y="250.5">-2.52 - -2.04</text>
<rect x="289.4" y="256.4" width="18.2" height="8.6" fill="#0f9511" stroke="#6e6e5a" stroke-width="0.4"/>
<text class="lg2" x="311.1" y="263">-2.04 - -1.74</text>
<rect x="289.4" y="269" width="18.2" height="8.6" fill="#79b417" stroke="#6e6e5a" stroke-width="0.4"/>
<text class="lg2" x="311.1" y="275.6">-1.74 - -1.49</text>
<rect x="289.4" y="281.5" width="18.2" height="8.6" fill="#d4e616" stroke="#6e6e5a" stroke-width="0.4"/>
<text class="lg2" x="311.1" y="288.1">-1.49 - -1.23</text>
<rect x="289.4" y="294.1" width="18.2" height="8.6" fill="#ffe613" stroke="#6e6e5a" stroke-width="0.4"/>
<text class="lg2" x="311.1" y="300.7">-1.23 - -1.00</text>
<rect x="289.4" y="306.6" width="18.2" height="8.6" fill="#ffa70d" stroke="#6e6e5a" stroke-width="0.4"/>
<text class="lg2" x="311.1" y="313.2">-1.00 - -0.74</text>
<rect x="289.4" y="319.1" width="18.2" height="8.6" fill="#ff6d0d" stroke="#6e6e5a" stroke-width="0.4"/>
<text class="lg2" x="311.1" y="325.7">-0.74 - -0.47</text>
<rect x="289.4" y="331.7" width="18.2" height="8.6" fill="#ff250b" stroke="#6e6e5a" stroke-width="0.4"/>
<text class="lg2" x="311.1" y="338.3">-0.47 - -0.18</text>
<use href="#rose" x="239.2" y="46.4"/>
<use href="#rose" x="502.2" y="46.2"/>
<use href="#rose" x="233" y="266.6"/>
<use href="#rose" x="503.6" y="266.9"/>
<text class="ttl" x="25" y="218">S (T)</text>
<text class="ttl" x="290" y="217.6">S (Rn)</text>
<text class="ttl" x="27" y="441">S (U)</text>
<text class="ttl" x="290.6" y="441">S (ea)</text>
</g>
</svg></body></html>
